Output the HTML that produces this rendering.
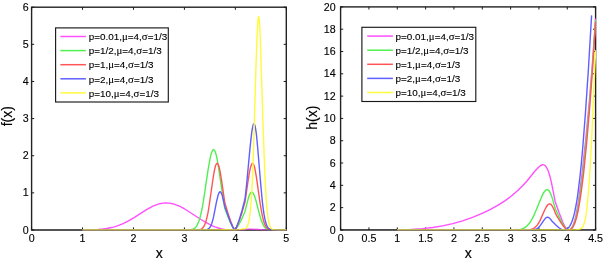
<!DOCTYPE html>
<html><head><meta charset="utf-8"><style>
html,body{margin:0;padding:0;background:#fff;}
svg{display:block;}
.t{font-family:"Liberation Sans",Arial,sans-serif;font-size:10px;fill:#000;stroke:#000;stroke-width:0.12px;}
.s{font-family:"Liberation Serif","Times New Roman",serif;font-size:10.8px;}
.l{font-family:"Liberation Sans",Arial,sans-serif;font-size:14px;fill:#000;stroke:#000;stroke-width:0.15px;}
</style></head><body>
<svg width="605" height="262" viewBox="0 0 605 262">
<rect width="605" height="262" fill="#fff"/>
<clipPath id="cl1"><rect x="31.1" y="6.7" width="255.70000000000002" height="223.8"/></clipPath>
<rect x="31.6" y="7.2" width="254.70000000000002" height="222.8" fill="none" stroke="#222" stroke-width="1.4"/>
<path d="M31.60,230.0v-2.6M31.60,7.2v2.6M82.54,230.0v-2.6M82.54,7.2v2.6M133.48,230.0v-2.6M133.48,7.2v2.6M184.42,230.0v-2.6M184.42,7.2v2.6M235.36,230.0v-2.6M235.36,7.2v2.6M286.30,230.0v-2.6M286.30,7.2v2.6M31.6,230.00h2.6M286.3,230.00h-2.6M31.6,192.87h2.6M286.3,192.87h-2.6M31.6,155.73h2.6M286.3,155.73h-2.6M31.6,118.60h2.6M286.3,118.60h-2.6M31.6,81.47h2.6M286.3,81.47h-2.6M31.6,44.33h2.6M286.3,44.33h-2.6M31.6,7.20h2.6M286.3,7.20h-2.6" stroke="#1a1a1a" stroke-width="1" fill="none"/>
<text transform="translate(31.60,241.6) scale(1.07,1)" text-anchor="middle" class="t">0</text>
<text transform="translate(82.54,241.6) scale(1.07,1)" text-anchor="middle" class="t">1</text>
<text transform="translate(133.48,241.6) scale(1.07,1)" text-anchor="middle" class="t">2</text>
<text transform="translate(184.42,241.6) scale(1.07,1)" text-anchor="middle" class="t">3</text>
<text transform="translate(235.36,241.6) scale(1.07,1)" text-anchor="middle" class="t">4</text>
<text transform="translate(286.30,241.6) scale(1.07,1)" text-anchor="middle" class="t">5</text>
<text transform="translate(28.6,233.60) scale(1.07,1)" text-anchor="end" class="t">0</text>
<text transform="translate(28.6,196.47) scale(1.07,1)" text-anchor="end" class="t">1</text>
<text transform="translate(28.6,159.33) scale(1.07,1)" text-anchor="end" class="t">2</text>
<text transform="translate(28.6,122.20) scale(1.07,1)" text-anchor="end" class="t">3</text>
<text transform="translate(28.6,85.07) scale(1.07,1)" text-anchor="end" class="t">4</text>
<text transform="translate(28.6,47.93) scale(1.07,1)" text-anchor="end" class="t">5</text>
<text transform="translate(28.6,10.80) scale(1.07,1)" text-anchor="end" class="t">6</text>
<g clip-path="url(#cl1)" fill="none" stroke-width="1.4" stroke-linejoin="round">
<path d="M82.5,230.0 91.7,230.0 92.3,229.7 98.1,229.4 102.9,229.0 106.6,228.5 110.2,227.8 113.5,227.1 116.7,226.1 122.5,223.9 128.5,220.9 134.1,217.6 146.5,209.7 149.8,207.8 152.8,206.2 156.3,204.8 159.6,203.7 162.9,203.1 166.1,202.9 169.3,203.1 172.6,203.7 175.9,204.8 179.5,206.2 182.8,207.9 186.3,210.0 201.0,219.5 207.7,223.4 211.4,225.3 215.0,226.8 218.4,228.0 221.7,228.9 224.7,229.4 234.7,230.0 241.3,229.7 248.5,229.1 250.9,229.1 264.7,229.9 286.3,230.0" stroke="#ff50ff"/>
<path d="M82.5,230.0 186.3,230.0 189.1,229.9 191.0,229.7 192.6,229.3 194.0,228.7 195.0,227.9 195.9,227.0 196.8,225.8 197.5,224.4 199.1,220.7 200.6,215.4 202.0,209.0 203.4,201.2 208.1,169.6 209.8,159.9 210.8,155.2 211.7,152.2 212.6,150.3 213.1,149.8 213.5,149.6 213.8,149.7 214.3,150.2 214.9,151.1 215.4,152.3 216.3,155.3 217.3,160.0 218.9,169.8 222.9,197.1 224.7,208.2 227.5,215.6 230.1,222.0 232.4,226.6 233.4,228.3 234.3,229.6 234.9,230.0 235.1,229.8 236.0,228.9 237.1,227.3 239.6,223.2 242.4,217.6 245.0,211.5 247.5,201.4 249.1,195.8 249.9,194.0 250.5,192.9 251.2,192.3 251.8,192.1 252.4,192.4 253.1,193.1 253.7,194.2 254.5,196.0 255.9,200.4 259.4,214.1 261.1,219.7 262.1,222.4 263.0,224.4 264.0,226.2 265.0,227.5 266.1,228.4 267.1,229.1 268.3,229.5 269.9,229.8 273.4,230.0 286.3,230.0" stroke="#50f050"/>
<path d="M82.5,230.0 194.9,230.0 198.8,229.8 200.1,229.6 201.1,229.2 202.0,228.6 202.9,227.8 204.3,225.7 205.6,222.6 206.8,218.1 208.0,212.7 209.1,206.0 212.8,180.1 214.2,171.5 215.0,167.9 215.7,165.3 216.5,163.7 216.9,163.4 217.1,163.3 217.4,163.4 217.8,163.7 218.5,165.2 219.3,167.8 220.1,171.4 221.6,180.6 224.7,202.1 227.7,212.5 230.5,220.8 232.9,226.8 234.0,228.8 234.7,229.9 234.9,230.0 235.2,229.6 236.4,227.6 237.5,225.1 238.9,221.5 241.9,212.9 245.0,202.1 248.1,180.6 249.6,171.4 250.4,167.8 251.2,165.2 251.9,163.7 252.3,163.4 252.6,163.3 252.8,163.4 253.2,163.7 253.8,164.9 254.5,166.9 255.2,170.2 256.6,178.4 259.9,201.9 261.6,212.0 262.5,216.4 263.5,220.6 264.4,223.3 265.4,225.7 266.4,227.4 267.5,228.4 268.7,229.2 270.1,229.7 273.6,230.0 286.3,230.0" stroke="#ff5555"/>
<path d="M82.5,230.0 201.9,230.0 205.2,229.9 207.0,229.6 208.4,229.0 209.6,227.8 210.7,226.2 211.7,223.7 212.6,220.8 213.6,216.7 216.6,201.3 217.8,196.3 218.9,193.0 219.6,192.0 220.1,191.8 220.5,191.9 221.0,192.4 222.0,194.7 223.1,199.0 224.7,206.2 228.9,218.1 230.6,222.5 232.3,226.1 233.8,228.8 234.9,230.0 235.6,228.9 236.6,226.8 239.1,220.2 241.9,211.0 245.0,199.0 246.7,183.6 249.9,149.1 251.2,136.9 251.9,131.0 252.6,127.3 253.3,124.5 253.7,123.9 254.0,123.7 254.2,123.8 254.5,124.2 255.1,126.1 255.7,129.4 256.4,134.1 257.6,146.7 260.7,184.0 262.2,200.3 263.1,208.0 264.0,214.2 264.9,219.0 265.9,223.1 266.8,225.5 267.8,227.4 269.0,228.7 270.5,229.5 271.9,229.8 273.9,230.0 286.3,230.0" stroke="#5f5fff"/>
<path d="M82.5,230.0 216.6,230.0 225.0,229.7 234.9,230.0 239.1,229.6 245.0,228.8 245.8,228.3 246.4,227.6 247.5,225.9 248.2,223.9 248.9,221.4 249.5,217.9 250.6,208.2 251.7,194.1 252.6,176.3 253.4,153.0 256.1,62.5 256.9,40.1 257.8,22.3 258.3,17.4 258.5,16.6 258.7,16.5 259.0,18.0 259.6,23.4 260.4,41.4 263.5,137.9 264.9,175.0 266.3,200.4 266.9,208.3 267.7,215.5 268.6,221.3 269.5,224.9 270.5,227.4 271.1,228.3 271.8,229.0 273.1,229.6 274.8,229.9 286.3,230.0" stroke="#fffa3c"/>
</g>
<path d="M31.6,230.0H286.3" stroke="#000" stroke-opacity="0.3" stroke-width="1.15"/>
<clipPath id="cl2"><rect x="340.1" y="6.4" width="256.0" height="224.04999999999998"/></clipPath>
<rect x="340.6" y="6.9" width="255.0" height="223.04999999999998" fill="none" stroke="#222" stroke-width="1.4"/>
<path d="M340.60,229.95v-2.6M340.60,6.9v2.6M368.93,229.95v-2.6M368.93,6.9v2.6M397.27,229.95v-2.6M397.27,6.9v2.6M425.60,229.95v-2.6M425.60,6.9v2.6M453.93,229.95v-2.6M453.93,6.9v2.6M482.27,229.95v-2.6M482.27,6.9v2.6M510.60,229.95v-2.6M510.60,6.9v2.6M538.93,229.95v-2.6M538.93,6.9v2.6M567.27,229.95v-2.6M567.27,6.9v2.6M595.60,229.95v-2.6M595.60,6.9v2.6M340.6,229.95h2.6M595.6,229.95h-2.6M340.6,207.64h2.6M595.6,207.64h-2.6M340.6,185.34h2.6M595.6,185.34h-2.6M340.6,163.03h2.6M595.6,163.03h-2.6M340.6,140.73h2.6M595.6,140.73h-2.6M340.6,118.42h2.6M595.6,118.42h-2.6M340.6,96.12h2.6M595.6,96.12h-2.6M340.6,73.81h2.6M595.6,73.81h-2.6M340.6,51.51h2.6M595.6,51.51h-2.6M340.6,29.21h2.6M595.6,29.21h-2.6M340.6,6.90h2.6M595.6,6.90h-2.6" stroke="#1a1a1a" stroke-width="1" fill="none"/>
<text transform="translate(340.60,241.6) scale(1.07,1)" text-anchor="middle" class="t">0</text>
<text transform="translate(368.93,241.6) scale(1.07,1)" text-anchor="middle" class="t">0.5</text>
<text transform="translate(397.27,241.6) scale(1.07,1)" text-anchor="middle" class="t">1</text>
<text transform="translate(425.60,241.6) scale(1.07,1)" text-anchor="middle" class="t">1.5</text>
<text transform="translate(453.93,241.6) scale(1.07,1)" text-anchor="middle" class="t">2</text>
<text transform="translate(482.27,241.6) scale(1.07,1)" text-anchor="middle" class="t">2.5</text>
<text transform="translate(510.60,241.6) scale(1.07,1)" text-anchor="middle" class="t">3</text>
<text transform="translate(538.93,241.6) scale(1.07,1)" text-anchor="middle" class="t">3.5</text>
<text transform="translate(567.27,241.6) scale(1.07,1)" text-anchor="middle" class="t">4</text>
<text transform="translate(595.60,241.6) scale(1.07,1)" text-anchor="middle" class="t">4.5</text>
<text transform="translate(335.6,233.55) scale(1.07,1)" text-anchor="end" class="t">0</text>
<text transform="translate(335.6,211.24) scale(1.07,1)" text-anchor="end" class="t">2</text>
<text transform="translate(335.6,188.94) scale(1.07,1)" text-anchor="end" class="t">4</text>
<text transform="translate(335.6,166.63) scale(1.07,1)" text-anchor="end" class="t">6</text>
<text transform="translate(335.6,144.33) scale(1.07,1)" text-anchor="end" class="t">8</text>
<text transform="translate(335.6,122.02) scale(1.07,1)" text-anchor="end" class="t">10</text>
<text transform="translate(335.6,99.72) scale(1.07,1)" text-anchor="end" class="t">12</text>
<text transform="translate(335.6,77.41) scale(1.07,1)" text-anchor="end" class="t">14</text>
<text transform="translate(335.6,55.11) scale(1.07,1)" text-anchor="end" class="t">16</text>
<text transform="translate(335.6,32.81) scale(1.07,1)" text-anchor="end" class="t">18</text>
<text transform="translate(335.6,10.50) scale(1.07,1)" text-anchor="end" class="t">20</text>
<g clip-path="url(#cl2)" fill="none" stroke-width="1.4" stroke-linejoin="round">
<path d="M397.3,229.8 411.0,229.4 422.3,228.6 432.7,227.5 442.6,225.9 452.7,223.6 462.6,220.8 472.5,217.3 482.1,213.4 490.5,209.4 498.1,205.1 505.2,200.6 511.7,195.8 517.5,190.8 523.1,185.3 527.2,180.7 535.2,170.8 538.1,167.7 539.5,166.4 540.8,165.5 541.9,165.0 542.9,164.8 543.8,164.9 544.5,165.2 545.3,165.8 546.0,166.6 547.4,169.1 548.7,172.2 550.1,177.0 551.5,182.9 555.2,201.7 559.2,213.1 562.7,222.0 565.3,227.2 566.3,228.9 567.1,229.9 568.3,229.9 569.4,229.7 570.2,229.3 571.1,228.6 571.8,227.7 572.5,226.6 573.8,223.5 575.1,219.3 576.3,213.6 577.6,206.6 579.0,197.4 582.0,174.1 585.8,138.8 589.5,99.6 592.6,61.1 595.6,18.5" stroke="#ff50ff"/>
<path d="M397.3,229.9 511.5,229.9 517.5,229.7 519.7,229.5 521.4,229.1 523.9,228.2 526.2,226.7 528.3,224.6 530.3,222.0 532.3,218.6 534.3,214.6 536.2,210.0 540.8,198.7 542.9,194.1 544.0,192.2 545.2,190.7 546.2,189.9 547.2,189.7 548.0,189.9 548.9,190.6 549.7,191.8 550.5,193.4 551.5,195.9 552.5,198.9 555.2,208.5 559.9,218.6 562.0,222.7 563.9,225.8 565.9,228.6 566.7,229.5 567.3,229.9 568.7,229.9 569.7,229.7 570.7,229.2 571.5,228.4 572.4,227.3 573.1,226.1 574.5,222.7 575.9,217.8 577.2,212.2 578.6,204.5 580.0,195.4 581.4,185.0 583.0,172.1 586.2,141.1 589.5,104.7 592.6,64.3 595.6,20.1" stroke="#50f050"/>
<path d="M397.3,229.9 522.6,229.9 527.5,229.9 530.3,229.6 532.4,229.0 534.1,228.1 535.7,226.9 537.2,225.1 538.7,223.0 540.1,220.4 544.7,210.0 546.3,207.0 547.3,205.5 548.1,204.5 549.0,204.0 549.7,203.8 550.4,204.0 551.0,204.4 552.2,206.0 553.7,208.8 555.7,213.9 556.9,216.2 561.3,223.2 563.3,226.0 565.0,228.0 566.3,229.3 567.3,229.9 568.8,229.9 570.0,229.6 571.0,229.1 571.9,228.3 572.8,227.2 573.5,226.0 575.1,222.4 576.5,217.8 577.9,211.8 579.3,204.4 580.7,195.5 582.1,185.2 583.6,173.5 586.5,144.5 589.5,109.7 592.5,69.5 595.6,21.8" stroke="#ff5555"/>
<path d="M397.3,229.9 527.0,229.9 532.8,229.8 534.4,229.6 535.8,229.2 537.1,228.6 538.2,227.7 539.2,226.8 540.4,225.4 543.8,220.4 545.0,218.8 546.3,217.6 547.0,217.3 547.6,217.2 548.4,217.4 549.4,218.0 550.3,218.9 552.1,221.2 556.1,225.2 559.3,228.0 561.9,229.6 562.7,229.9 564.4,229.9 565.6,229.7 567.1,229.0 568.5,227.8 569.4,226.7 570.2,225.4 571.8,222.0 573.4,217.3 574.8,211.6 576.2,204.5 577.5,196.6 578.7,187.2 580.0,176.3 581.3,163.8 582.7,148.2 585.4,113.6 588.4,69.3 591.6,15.4" stroke="#5f5fff"/>
<path d="M397.3,229.9 571.7,229.9 575.8,229.8 578.3,229.6 580.2,229.0 581.6,228.1 582.9,226.5 583.8,224.4 584.7,221.7 585.5,217.9 586.4,212.7 587.1,207.0 588.5,191.7 589.9,170.8 591.4,144.7 595.6,50.2" stroke="#fffa3c"/>
</g>
<path d="M340.6,229.95H595.6" stroke="#000" stroke-opacity="0.3" stroke-width="1.15"/>
<rect x="55.6" y="27.9" width="112.70000000000002" height="74.1" fill="#fff" stroke="#1a1a1a" stroke-width="1.15"/>
<path d="M60.4,36.50H85.9" stroke="#ff50ff" stroke-width="1.5"/>
<text x="88.8" y="40.20" class="t" style="font-size:9.9px">p=0.01,<tspan class="s">μ</tspan>=4,<tspan class="s">σ</tspan>=1/3</text>
<path d="M60.4,50.60H85.9" stroke="#50f050" stroke-width="1.5"/>
<text x="88.8" y="54.30" class="t" style="font-size:9.9px">p=1/2,<tspan class="s">μ</tspan>=4,<tspan class="s">σ</tspan>=1/3</text>
<path d="M60.4,64.70H85.9" stroke="#ff5555" stroke-width="1.5"/>
<text x="88.8" y="68.40" class="t" style="font-size:9.9px">p=1,<tspan class="s">μ</tspan>=4,<tspan class="s">σ</tspan>=1/3</text>
<path d="M60.4,78.80H85.9" stroke="#5f5fff" stroke-width="1.5"/>
<text x="88.8" y="82.50" class="t" style="font-size:9.9px">p=2,<tspan class="s">μ</tspan>=4,<tspan class="s">σ</tspan>=1/3</text>
<path d="M60.4,92.90H85.9" stroke="#fffa3c" stroke-width="1.5"/>
<text x="88.8" y="96.60" class="t" style="font-size:9.9px">p=10,<tspan class="s">μ</tspan>=4,<tspan class="s">σ</tspan>=1/3</text>
<rect x="361.9" y="27.3" width="113.90000000000003" height="74.2" fill="#fff" stroke="#1a1a1a" stroke-width="1.15"/>
<path d="M367.2,36.10H392.9" stroke="#ff50ff" stroke-width="1.5"/>
<text x="395.6" y="39.80" class="t" style="font-size:9.9px">p=0.01,<tspan class="s">μ</tspan>=4,<tspan class="s">σ</tspan>=1/3</text>
<path d="M367.2,50.20H392.9" stroke="#50f050" stroke-width="1.5"/>
<text x="395.6" y="53.90" class="t" style="font-size:9.9px">p=1/2,<tspan class="s">μ</tspan>=4,<tspan class="s">σ</tspan>=1/3</text>
<path d="M367.2,64.30H392.9" stroke="#ff5555" stroke-width="1.5"/>
<text x="395.6" y="68.00" class="t" style="font-size:9.9px">p=1,<tspan class="s">μ</tspan>=4,<tspan class="s">σ</tspan>=1/3</text>
<path d="M367.2,78.40H392.9" stroke="#5f5fff" stroke-width="1.5"/>
<text x="395.6" y="82.10" class="t" style="font-size:9.9px">p=2,<tspan class="s">μ</tspan>=4,<tspan class="s">σ</tspan>=1/3</text>
<path d="M367.2,92.50H392.9" stroke="#fffa3c" stroke-width="1.5"/>
<text x="395.6" y="96.20" class="t" style="font-size:9.9px">p=10,<tspan class="s">μ</tspan>=4,<tspan class="s">σ</tspan>=1/3</text>
<text x="159.2" y="257.8" text-anchor="middle" class="l">x</text>
<text x="468.3" y="257.8" text-anchor="middle" class="l">x</text>
<text transform="translate(12.3,116.2) rotate(-90)" text-anchor="middle" class="l">f(x)</text>
<text transform="translate(316.6,117.6) rotate(-90)" text-anchor="middle" class="l">h(x)</text>
</svg>
</body></html>
